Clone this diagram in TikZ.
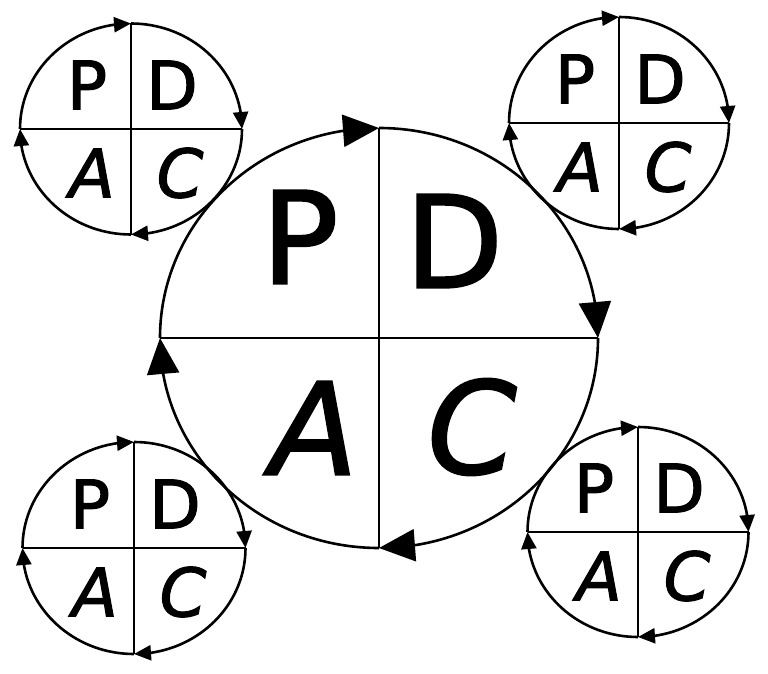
\documentclass[tikz,border=0pt]{standalone}
\usepackage{fontspec}
\setmainfont{DejaVu Sans}[FakeBold=1.6]
\usetikzlibrary{arrows.meta,bending}
\tikzset{
  ring/.style={line width=2.6pt},
  quad/.style={line width=2.4pt},
  bigtip/.style={-{Triangle[length=36pt,width=32pt]}},
  smalltip/.style={-{Triangle[length=17pt,width=15pt]}},
  letter/.style={inner sep=0pt, anchor=center},
  bigletter/.style={letter, font=\fontsize{128}{128}\selectfont},
  smallletter/.style={letter, font=\fontsize{67}{67}\selectfont},
}
% #1 name, #2 cx, #3 cy, #4 rx, #5 ry, #6 tip style
\newcommand\PDCAring[6]{%
  \coordinate (#1-c) at (#2,#3);
  \coordinate (#1-l) at (#2-#4,#3);
  \coordinate (#1-r) at (#2+#4,#3);
  \coordinate (#1-t) at (#2,#3-#5);
  \coordinate (#1-b) at (#2,#3+#5);
  \draw[quad] (#1-l) -- (#1-r);
  \draw[quad] (#1-t) -- (#1-b);
  \draw[ring,#6] (#1-l) arc[start angle=180,end angle=270,x radius=#4,y radius=#5];
  \draw[ring,#6] (#1-t) arc[start angle=270,end angle=360,x radius=#4,y radius=#5];
  \draw[ring,#6] (#1-r) arc[start angle=0,end angle=90,x radius=#4,y radius=#5];
  \draw[ring,#6] (#1-b) arc[start angle=90,end angle=180,x radius=#4,y radius=#5];
}
\newcommand\PDCAsmall[1]{%
  \node[smallletter] (#1-P) at ([shift={(-44,-44)}]#1-c) {P};
  \node[smallletter] (#1-D) at ([shift={(41,-44)}]#1-c) {D};
  \node[smallletter] (#1-A) at ([shift={(-39,44)}]#1-c) {\itshape A};
  \node[smallletter] (#1-C) at ([shift={(49,44)}]#1-c) {\itshape C};
}
\begin{document}
\begin{tikzpicture}[x=1pt,y=-1pt]
  \useasboundingbox (0,0) rectangle (768,674);
  % big cycle
  \PDCAring{big}{379}{338}{219}{210}{bigtip}
  \node[bigletter] (big-P) at ([shift={(-79,-101)}]big-c) {P};
  \node[bigletter] (big-D) at ([shift={(75,-97)}]big-c) {D};
  \node[bigletter] (big-A) at ([shift={(-65,90)}]big-c) {\itshape A};
  \node[bigletter] (big-C) at ([shift={(93,89)}]big-c) {\itshape C};
  % small cycles
  \PDCAring{tl}{131}{129}{111}{105.5}{smalltip}
  \PDCAsmall{tl}
  \PDCAring{tr}{619}{123}{110}{106}{smalltip}
  \PDCAsmall{tr}
  \PDCAring{bl}{134}{548}{111.5}{106}{smalltip}
  \PDCAsmall{bl}
  \PDCAring{br}{638}{532}{110.5}{105}{smalltip}
  \PDCAsmall{br}
\end{tikzpicture}
\end{document}
